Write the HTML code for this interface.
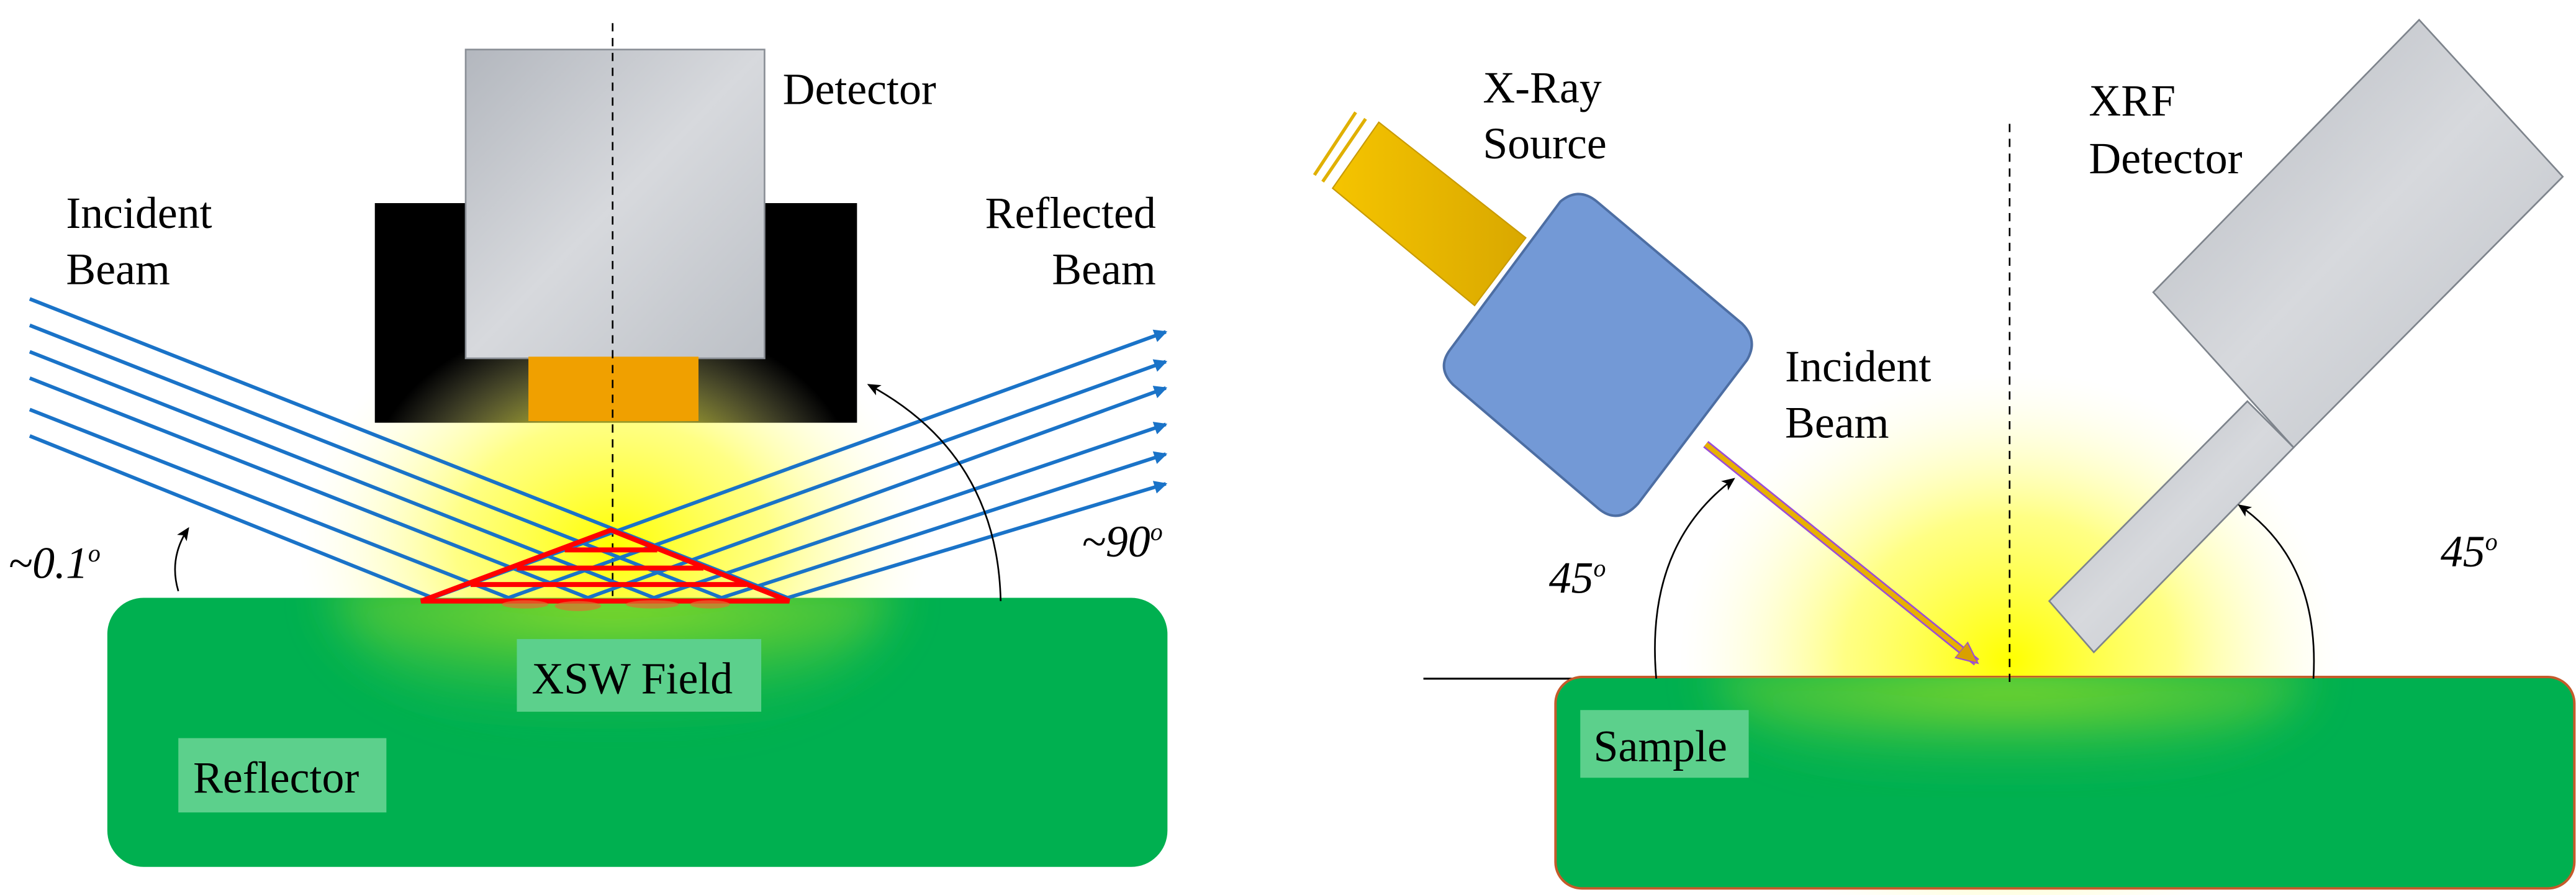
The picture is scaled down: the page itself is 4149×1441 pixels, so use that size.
<!DOCTYPE html>
<html><head><meta charset="utf-8"><style>
html,body{margin:0;padding:0;background:#fff;overflow:hidden;width:4149px;height:1441px;}
svg{display:block;font-family:"Liberation Serif","DejaVu Serif",serif;}
text{font-family:"Liberation Serif","DejaVu Serif",serif;fill:#000;}
</style></head><body>
<svg width="4149" height="1441" viewBox="0 0 1560 542" preserveAspectRatio="none" xmlns="http://www.w3.org/2000/svg">
<defs>
<radialGradient id="glowL" cx="0.5" cy="0.5" r="0.5">
<stop offset="0" stop-color="#ffff00" stop-opacity="1"/>
<stop offset="0.5" stop-color="#ffff50" stop-opacity="0.7"/>
<stop offset="1" stop-color="#ffffd0" stop-opacity="0"/>
</radialGradient>
<radialGradient id="greenGlow" cx="0.5" cy="0" r="1" fx="0.5" fy="0">
<stop offset="0" stop-color="#b0ea18" stop-opacity="1"/>
<stop offset="0.5" stop-color="#70d030" stop-opacity="0.6"/>
<stop offset="1" stop-color="#00b050" stop-opacity="0"/>
</radialGradient>
<filter id="blur" x="-20%" y="-20%" width="140%" height="140%"><feGaussianBlur stdDeviation="14"/></filter>
<clipPath id="clipL"><rect x="65" y="362" width="642" height="163" rx="22"/></clipPath>
<clipPath id="clipR"><rect x="942" y="410" width="617" height="128" rx="16"/></clipPath>
<linearGradient id="gray" x1="0" y1="0" x2="1" y2="1">
<stop offset="0" stop-color="#b3b7be"/>
<stop offset="0.5" stop-color="#d7d9dd"/>
<stop offset="1" stop-color="#bcc0c6"/>
</linearGradient>
<linearGradient id="gold" x1="0" y1="0" x2="1" y2="0">
<stop offset="0" stop-color="#f5c400"/>
<stop offset="1" stop-color="#d9a800"/>
</linearGradient>
<clipPath id="clipDet"><rect x="227" y="123" width="292" height="133"/></clipPath>
<marker id="bl" markerWidth="8" markerHeight="8" refX="7" refY="4" orient="auto" markerUnits="userSpaceOnUse">
<path d="M0,0 L8,4 L0,8 z" fill="#1a73c8"/>
</marker>
<marker id="ka" markerWidth="8" markerHeight="8" refX="7" refY="4" orient="auto" markerUnits="userSpaceOnUse">
<path d="M0,0.5 L8,4 L0,7.5 L2,4 z" fill="#000"/>
</marker>
<marker id="ga" markerWidth="14" markerHeight="14" refX="12" refY="7" orient="auto" markerUnits="userSpaceOnUse">
<path d="M0,1 L13,7 L0,13 z" fill="#d9a000" stroke="#9b4dd6" stroke-width="0.8"/>
</marker>
</defs>

<!-- LEFT PANEL -->
<ellipse cx="371" cy="330" rx="190" ry="150" fill="url(#glowL)"/>
<rect x="227" y="123" width="292" height="133" fill="#000"/>
<ellipse cx="371" cy="300" rx="150" ry="110" fill="url(#glowL)" clip-path="url(#clipDet)" opacity="0.8"/>
<rect x="282" y="30" width="181" height="187" fill="url(#gray)" stroke="#8a8f96" stroke-width="1"/>
<rect x="320" y="216" width="103" height="39" fill="#f0a000"/>
<rect x="65" y="362" width="642" height="163" rx="22" fill="#00b050"/>
<g clip-path="url(#clipL)"><path d="M201,352 A170,90 0 0 0 541,352 Z" fill="url(#greenGlow)" filter="url(#blur)"/></g>
<line x1="371" y1="14" x2="371" y2="365" stroke="#000" stroke-width="1" stroke-dasharray="5,4"/>
<g stroke="#1a73c8" stroke-width="2.2" fill="none">
<polyline points="18,181 477,362 706,293" marker-end="url(#bl)"/>
<polyline points="18,197 437,362 706,275" marker-end="url(#bl)"/>
<polyline points="18,213 396,362 706,257" marker-end="url(#bl)"/>
<polyline points="18,229 356,362 706,235" marker-end="url(#bl)"/>
<polyline points="18,248 308,362 706,219" marker-end="url(#bl)"/>
<polyline points="18,264 262,362 706,201" marker-end="url(#bl)"/>
</g>
<g stroke="#f00" stroke-width="3" fill="none">
<polygon points="255,364 478,364 370,321" stroke-linejoin="miter"/>
<line x1="342" y1="333" x2="398" y2="333"/>
<line x1="313" y1="344" x2="426" y2="344"/>
<line x1="285" y1="354" x2="452" y2="354"/>
</g>
<g fill="#e07030" opacity="0.7">
<ellipse cx="318" cy="366" rx="14" ry="2.5"/><ellipse cx="350" cy="367" rx="14" ry="3"/><ellipse cx="395" cy="366" rx="16" ry="2.5"/><ellipse cx="430" cy="366" rx="12" ry="2.5"/>
</g>
<path d="M108,358 Q102,338 114,320" stroke="#000" stroke-width="1" fill="none" marker-end="url(#ka)"/>
<path d="M606,364 Q604,275 526,233" stroke="#000" stroke-width="1" fill="none" marker-end="url(#ka)"/>
<rect x="313" y="387" width="148" height="44" fill="#5cd08c"/>
<rect x="108" y="447" width="126" height="45" fill="#5cd08c"/>
<g font-size="27">
<text x="322" y="420">XSW Field</text>
<text x="117" y="480">Reflector</text>
<text x="474" y="63">Detector</text>
<text x="40" y="138">Incident</text>
<text x="40" y="172">Beam</text>
<text x="700" y="138" text-anchor="end">Reflected</text>
<text x="700" y="172" text-anchor="end">Beam</text>
<text x="5" y="350" font-style="italic">~0.1<tspan font-size="15" dy="-10">o</tspan></text>
<text x="655" y="337" font-style="italic">~90<tspan font-size="15" dy="-10">o</tspan></text>
</g>

<!-- RIGHT PANEL -->
<ellipse cx="1217" cy="400" rx="200" ry="175" fill="url(#glowL)"/>
<line x1="862" y1="411" x2="955" y2="411" stroke="#000" stroke-width="1.2"/>
<rect x="942" y="410" width="617" height="128" rx="16" fill="#00b050" stroke="#c55a2a" stroke-width="1.5"/>
<g clip-path="url(#clipR)"><path d="M1037,405 A180,65 0 0 0 1397,405 Z" fill="url(#greenGlow)" filter="url(#blur)"/></g>
<line x1="1217" y1="75" x2="1217" y2="413" stroke="#000" stroke-width="1" stroke-dasharray="5,4"/>
<polygon points="807,114 835,74 924,144 893,185" fill="url(#gold)" stroke="#c89a00" stroke-width="0.8"/>
<line x1="801" y1="110" x2="827" y2="72" stroke="#e0b000" stroke-width="2"/>
<line x1="796" y1="106" x2="821" y2="68" stroke="#e0b000" stroke-width="2"/>
<path d="M945,122 Q956,113 967,122 L1055,196 Q1065,206 1058,218 L992,305 Q980,318 968,308 L880,233 Q870,223 878,212 Z" fill="#7399d6" stroke="#4d6ea3" stroke-width="1.5"/>
<line x1="1033" y1="269" x2="1197" y2="401" stroke="#9b4dd6" stroke-width="5"/>
<line x1="1033" y1="269" x2="1197" y2="401" stroke="#e8b000" stroke-width="3" marker-end="url(#ga)"/>
<polygon points="1465,12 1552,107 1389,271 1304,177" fill="url(#gray)" stroke="#7e848c" stroke-width="1"/>
<polygon points="1361,243 1389,271 1268,395 1241,364" fill="url(#gray)" stroke="#7e848c" stroke-width="1"/>
<path d="M1003,411 Q996,330 1050,290" stroke="#000" stroke-width="1" fill="none" marker-end="url(#ka)"/>
<path d="M1401,411 Q1405,340 1356,306" stroke="#000" stroke-width="1" fill="none" marker-end="url(#ka)"/>
<rect x="957" y="430" width="102" height="41" fill="#5cd08c"/>
<g font-size="27">
<text x="965" y="461">Sample</text>
<text x="898" y="62">X-Ray</text>
<text x="898" y="96">Source</text>
<text x="1265" y="70">XRF</text>
<text x="1265" y="105">Detector</text>
<text x="1081" y="231">Incident</text>
<text x="1081" y="265">Beam</text>
<text x="938" y="359" font-style="italic">45<tspan font-size="15" dy="-10">o</tspan></text>
<text x="1478" y="343" font-style="italic">45<tspan font-size="15" dy="-10">o</tspan></text>
</g>
</svg>
</body></html>
